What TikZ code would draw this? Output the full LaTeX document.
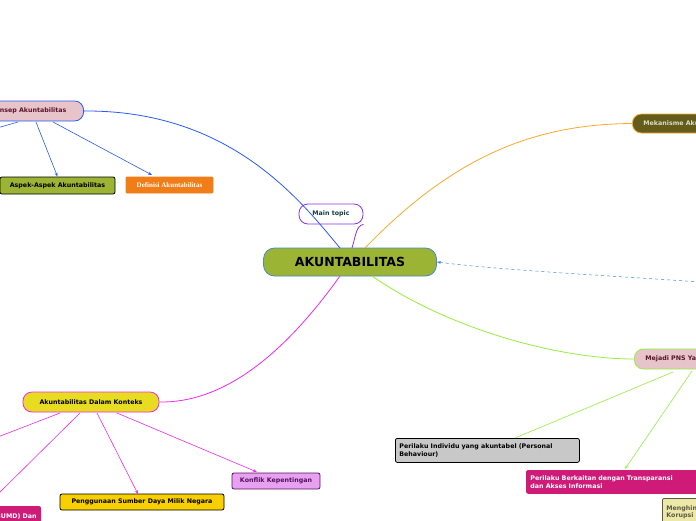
\documentclass[tikz,border=0pt]{standalone}
\usepackage{fontspec}
\setmainfont{DejaVu Sans}
\newfontfamily\serifb{Liberation Serif}
\usetikzlibrary{arrows.meta}
\definecolor{olive}{HTML}{9CB434}
\definecolor{pinkbg}{HTML}{E6C4CA}
\definecolor{mag}{HTML}{D01A78}
\definecolor{cblue}{RGB}{40,90,250}
\definecolor{cpurp}{RGB}{140,50,240}
\definecolor{corange}{RGB}{250,170,40}
\definecolor{cgreen}{RGB}{150,240,60}
\definecolor{cmag}{RGB}{240,40,240}
\definecolor{cdash}{RGB}{70,140,220}
\definecolor{cborder}{RGB}{70,140,200}
\tikzset{
  x=1pt,y=-1pt,
  box/.style={rounded corners=2pt,draw,line width=0.8pt,font=\fontsize{6.3}{7.5}\selectfont\bfseries,inner sep=2pt,align=left},
  topic/.style={rounded corners=9pt,draw,line width=0.8pt,font=\fontsize{6.3}{7.5}\selectfont\bfseries,minimum height=20pt},
  arr/.style={-{Stealth[length=4pt,width=3pt]},line width=0.6pt},
}
\begin{document}
\begin{tikzpicture}
\useasboundingbox (0,0) rectangle (696,520);
\clip (0,0) rectangle (696,520);
\fill[white] (0,0) rectangle (696,520);
% nodes
\node[topic,fill=olive,draw=cborder,minimum width=173pt,minimum height=28pt,rounded corners=11pt,font=\fontsize{12.5}{14}\selectfont\bfseries] (c) at (350,262) {AKUNTABILITAS};
\node[topic,draw=cpurp,fill=white,minimum width=64pt,minimum height=20pt,text={rgb,255:red,20;green,60;blue,60}] (mt) at (331,214) {Main topic};
\node[topic,fill=pinkbg,draw=cblue,text={rgb,255:red,90;green,20;blue,40},minimum width=110pt,anchor=east] (ks) at (84,111) {Konsep Akuntabilitas};
\node[box,fill=olive,draw=black,minimum width=115pt,minimum height=17pt,align=center] (as) at (57.5,185.5) {Aspek-Aspek Akuntabilitas};
\node[box,fill={rgb,255:red,240;green,125;blue,24},draw={rgb,255:red,240;green,125;blue,24},text=white,minimum width=87pt,minimum height=16pt,font=\serifb\fontsize{7}{8}\selectfont\bfseries,rounded corners=1pt] (df) at (169.5,185) {Definisi Akuntabilitas};
\node[topic,fill={rgb,255:red,100;green,92;blue,26},draw=corange,text={rgb,255:red,220;green,220;blue,200},minimum height=19pt,anchor=west,inner xsep=11pt] (mk) at (632,123.5) {Mekanisme Akuntabilitas};
\node[topic,fill=pinkbg,draw=cgreen,text={rgb,255:red,90;green,20;blue,40},anchor=west,inner xsep=11pt] (pn) at (634,359) {Mejadi PNS Yang Akuntabel};
\node[box,fill={rgb,255:red,200;green,200;blue,200},draw=black,text width=176pt,minimum height=24pt,inner xsep=4pt,anchor=north west] (pi) at (395,438) {Perilaku Individu yang akuntabel (Personal\\Behaviour)};
\node[box,fill=mag,draw=mag,text=white,text width=176pt,minimum height=23pt,inner xsep=4pt,anchor=north west] (tr) at (526,470) {Perilaku Berkaitan dengan Transparansi\\dan Akses Informasi};
\node[box,fill={rgb,255:red,236;green,232;blue,168},draw={rgb,255:red,90;green,90;blue,70},text={rgb,255:red,90;green,90;blue,70},text width=60pt,minimum height=28pt,inner xsep=4pt,anchor=north west] (mg) at (662,498) {Menghindari\\Korupsi};
\node[topic,fill={rgb,255:red,232;green,220;blue,32},draw=cmag,minimum width=136pt,minimum height=20pt] (kt) at (91,402) {Akuntabilitas Dalam Konteks};
\node[box,fill={rgb,255:red,248;green,208;blue,0},draw=black,minimum width=164pt,minimum height=16pt,align=center] (sd) at (142,502) {Penggunaan Sumber Daya Milik Negara};
\node[box,fill={rgb,255:red,232;green,160;blue,240},draw={rgb,255:red,80;green,20;blue,90},text={rgb,255:red,80;green,20;blue,90},minimum width=88pt,minimum height=16pt,align=center] (kk) at (276,481) {Konflik Kepentingan};
\node[box,fill=mag,draw=mag,text=white,minimum height=20pt,inner xsep=4pt,anchor=north east] (ud) at (41,506) {Pelayanan Publik (BUMN/BUMD) Dan};
\coordinate (kl) at (-10,130);
\coordinate (kl1) at (-10,440);
\coordinate (kl2) at (-10,502);
\coordinate (dr) at (700,282);
% connectors
\draw[line width=0.8pt,cblue] (ks.east) .. controls (230,110) and (300,200) .. (340,248);
\draw[line width=0.8pt,cpurp] (352,248) .. controls (356,235) and (356,226) .. (mt.south east);
\draw[line width=0.8pt,corange] (365,248) .. controls (450,160) and (530,124) .. (mk.west);
\draw[line width=0.8pt,cgreen] (372,276) .. controls (450,330) and (560,359) .. (pn.west);
\draw[line width=0.8pt,cmag] (340,276) .. controls (280,360) and (220,403) .. (kt.east);
\draw[dashed,line width=0.5pt,cdash,-{Stealth[length=4pt]}] (dr) .. controls (600,275) and (500,270) .. (c.east);
\draw[arr,cblue] (18,122) -- (kl);
\draw[arr,cblue] (36,122) -- (as.north);
\draw[arr,cblue] (53,122) -- (152,175);
\draw[line width=0.6pt,cgreen] (673,372) -- (515,438);
\draw[arr,cgreen] (692,371) -- (625,469);
\draw[line width=0.6pt,cmag] (60,413) -- (kl1);
\draw[line width=0.6pt,cmag] (80,413) -- (kl2);
\draw[arr,cmag] (97,413) -- (138,494);
\draw[arr,cmag] (117,413) -- (257,472);
\end{tikzpicture}
\end{document}
